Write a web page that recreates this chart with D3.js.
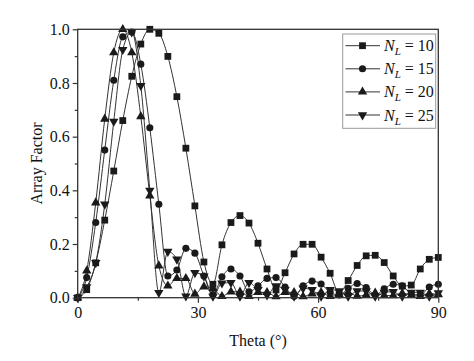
<!DOCTYPE html>
<html><head><meta charset="utf-8">
<script src="https://cdn.jsdelivr.net/npm/d3@7"></script>
<style>
html,body{margin:0;padding:0;background:#fff;}
text{font-family:"Liberation Serif","Times New Roman",serif;fill:#111;}
</style></head>
<body><svg id="c" width="474" height="361"></svg>
<script>
const theta = [0,2.25,4.5,6.75,9,11.25,13.5,15.75,18,20.25,22.5,24.75,27,29.25,31.5,33.75,36,38.25,40.5,42.75,45,47.25,49.5,51.75,54,56.25,58.5,60.75,63,65.25,67.5,69.75,72,74.25,76.5,78.75,81,83.25,85.5,87.75,90];
const afN10 = [0,0.03,0.13,0.289,0.472,0.66,0.825,0.945,1.0,0.985,0.899,0.749,0.557,0.342,0.133,0.05,0.197,0.28,0.306,0.278,0.203,0.107,0.029,0.093,0.163,0.199,0.199,0.151,0.091,0.017,0.064,0.12,0.156,0.158,0.131,0.081,0.043,0.047,0.107,0.143,0.15];
const afN15 = [0,0.075,0.28,0.55,0.81,0.972,0.99,0.87,0.633,0.348,0.081,0.103,0.184,0.166,0.081,0.012,0.078,0.107,0.081,0.022,0.044,0.072,0.075,0.04,0.005,0.044,0.062,0.051,0.02,0.01,0.035,0.053,0.038,0.01,0.033,0.05,0.044,0.015,0.01,0.04,0.05];
const afN20 = [0,0.1,0.354,0.666,0.913,1.0,0.913,0.675,0.38,0.119,0.044,0.072,0.072,0.014,0.041,0.035,0.005,0.022,0.022,0.005,0.02,0.02,0.004,0.02,0.02,0.004,0.015,0.02,0.005,0.012,0.02,0.006,0.01,0.018,0.008,0.008,0.016,0.01,0.005,0.015,0.012];
const afN25 = [0,0.04,0.13,0.348,0.657,0.924,0.99,0.79,0.40,0.019,0.172,0.143,0.006,0.093,0.08,0.005,0.054,0.056,0.005,0.056,0.03,0.01,0.044,0.03,0.005,0.035,0.03,0.005,0.03,0.025,0.005,0.025,0.025,0.005,0.02,0.022,0.005,0.02,0.02,0.005,0.018];
const seriesNames = ["10","15","20","25"];
const xTicks = [0,30,60,90];
const xMinor = [15,45,75];
const yTicks = [0,0.2,0.4,0.6,0.8,1.0];
const yMinor = [0.1,0.3,0.5,0.7,0.9];

const FONT = "'Liberation Serif','Times New Roman',serif";
const svg = d3.select("#c");
const x = d3.scaleLinear([0,90],[77.7,438.3]);
const y = d3.scaleLinear([0,1],[297.7,29.3]);
const ink = "#1a1a1a";

const series = [
  {name:seriesNames[0], vals:afN10, sym:d3.symbolSquare, size:46, rot:0},
  {name:seriesNames[1], vals:afN15, sym:d3.symbolCircle, size:40, rot:0},
  {name:seriesNames[2], vals:afN20, sym:d3.symbolTriangle, size:38, rot:0},
  {name:seriesNames[3], vals:afN25, sym:d3.symbolTriangle, size:38, rot:180}
];

const line = d3.line().x((d,i)=>x(theta[i])).y(d=>y(d)).curve(d3.curveMonotoneX);
const g = svg.append("g");
series.forEach(s=>{
  g.append("path").attr("d", line(s.vals)).attr("fill","none").attr("stroke","#333").attr("stroke-width",1);
});
series.forEach(s=>{
  const sym = d3.symbol().type(s.sym).size(s.size)();
  g.selectAll(null).data(s.vals).join("path")
    .attr("d", sym)
    .attr("transform",(d,i)=>`translate(${x(theta[i])},${y(d)}) rotate(${s.rot})`)
    .attr("fill",ink);
});

function style(ax){
  ax.attr("font-family",FONT).attr("font-size",16);
  ax.select(".domain").remove();
  ax.selectAll("line").attr("stroke","#333").attr("stroke-width",1.2);
  ax.selectAll("text").attr("fill","#111");
}
const xa = svg.append("g").attr("transform",`translate(0,${y(0)})`).call(d3.axisBottom(x).tickValues(xTicks).tickSize(5).tickPadding(4).tickFormat(d3.format("d")));
style(xa);
const xm = svg.append("g").attr("transform",`translate(0,${y(0)})`).call(d3.axisBottom(x).tickValues(xMinor).tickSize(3).tickFormat(""));
style(xm);
const ya = svg.append("g").attr("transform",`translate(${x(0)},0)`).call(d3.axisLeft(y).tickValues(yTicks).tickSize(5).tickPadding(3).tickFormat(d3.format(".1f")));
style(ya);
const ym = svg.append("g").attr("transform",`translate(${x(0)},0)`).call(d3.axisLeft(y).tickValues(yMinor).tickSize(3).tickFormat(""));
style(ym);

svg.append("rect").attr("x",x(0)).attr("y",y(1)).attr("width",x(90)-x(0)).attr("height",y(0)-y(1))
  .attr("fill","none").attr("stroke","#333").attr("stroke-width",1.3);

svg.append("text").attr("x",(x(0)+x(90))/2).attr("y",346).attr("text-anchor","middle").attr("font-size",16).attr("font-family",FONT).text("Theta (°)");
svg.append("text").attr("transform",`translate(42,${(y(0)+y(1))/2}) rotate(-90)`).attr("text-anchor","middle").attr("font-size",16).attr("font-family",FONT).text("Array Factor");

const lg = svg.append("g").attr("font-family",FONT);
lg.append("rect").attr("x",342.7).attr("y",34).attr("width",93).attr("height",94.3).attr("fill","#fff").attr("stroke","#999").attr("stroke-width",1);
series.forEach((s,i)=>{
  const cy = 45.7 + i*23.1;
  lg.append("line").attr("x1",345.5).attr("x2",380).attr("y1",cy).attr("y2",cy).attr("stroke","#333").attr("stroke-width",1);
  lg.append("path").attr("d",d3.symbol().type(s.sym).size(s.size)()).attr("transform",`translate(362.5,${cy}) rotate(${s.rot})`).attr("fill",ink);
  const t = lg.append("text").attr("x",384).attr("y",cy+5.5).attr("font-size",16);
  t.append("tspan").attr("font-style","italic").text("N");
  t.append("tspan").attr("font-style","italic").attr("font-size",11).attr("dy",4).text("L");
  t.append("tspan").attr("dy",-4).text(" = " + s.name);
});
</script></body></html>
